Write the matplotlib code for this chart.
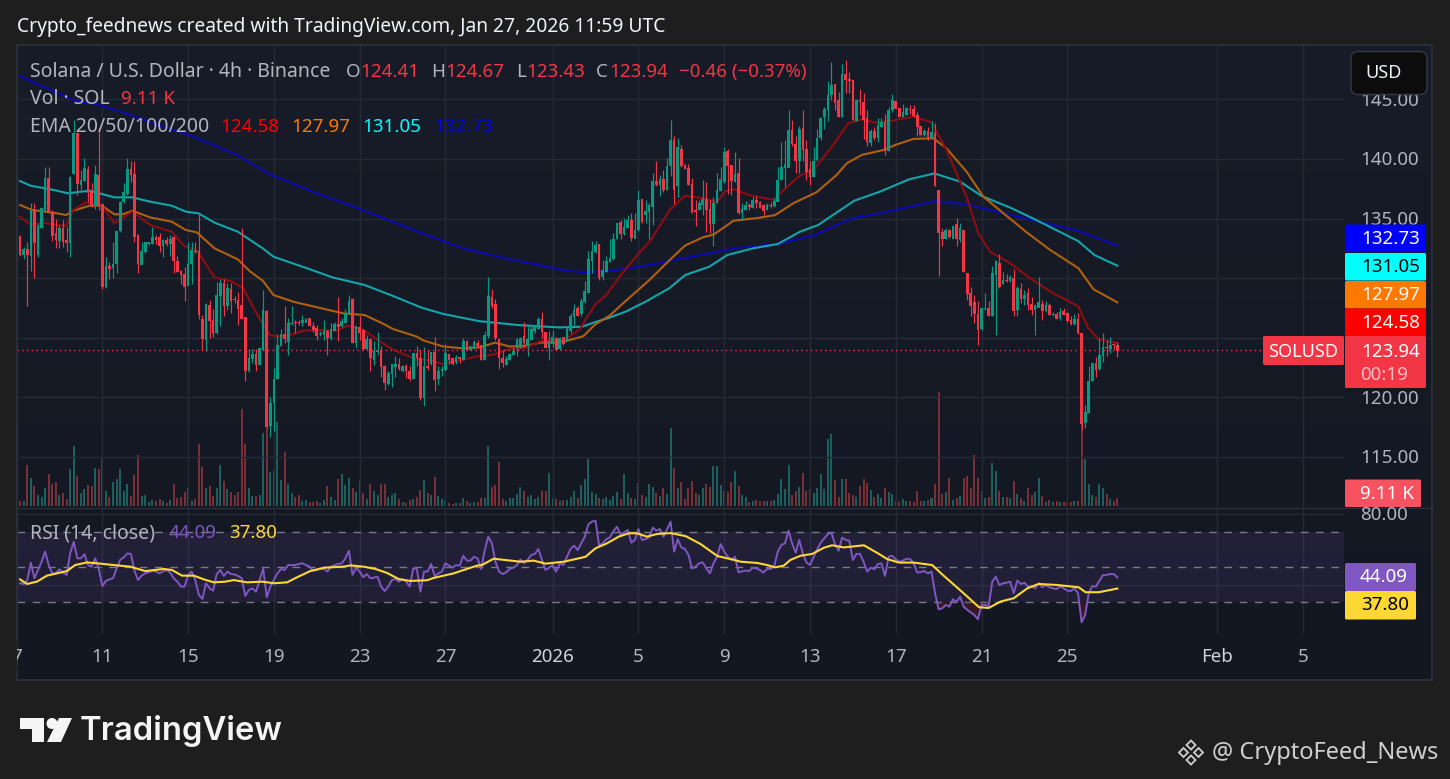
import numpy as np
import matplotlib
matplotlib.use("Agg")
import matplotlib.pyplot as plt
from matplotlib.patches import FancyBboxPatch, Polygon, Rectangle, Circle

# SOL/USD 4h candles, Dec 7 04:00 to Jan 27 08:00
opens = [
133.5,131.95,132.4,131.85,135.7,132.0,134.25,135.7,138.4,135.5,
133.8,133.1,134.2,133.2,133.0,138.8,142.15,137.8,138.2,139.15,
137.2,136.05,138.6,136.2,129.3,131.0,130.85,131.2,133.95,136.4,
137.05,139.15,138.75,133.6,131.15,132.2,132.9,132.85,133.45,133.4,
132.75,133.2,132.9,133.45,131.4,130.6,130.3,129.4,131.2,132.3,
132.25,126.6,124.8,127.75,126.45,125.4,128.55,129.6,127.65,129.1,
128.25,128.15,127.7,126.7,122.25,123.25,123.6,122.75,124.0,127.25,
117.6,119.55,121.6,124.3,125.3,124.7,126.2,126.3,126.3,126.25,
126.3,126.65,126.0,125.8,125.3,125.25,125.55,124.9,125.6,126.15,
126.0,126.3,127.05,128.2,124.6,125.9,125.6,124.05,124.9,123.15,
123.85,123.95,122.6,121.15,122.0,122.6,122.8,122.25,122.6,122.2,
121.55,123.7,123.3,120.0,122.6,122.8,123.75,121.55,122.2,122.3,
123.65,123.25,122.95,123.35,123.15,124.75,124.0,124.1,124.55,124.4,
123.15,125.15,128.4,127.8,124.9,123.3,122.75,123.15,123.6,124.2,
124.2,125.15,124.35,124.85,125.6,125.8,126.55,125.5,124.2,124.5,
125.0,124.05,125.05,124.7,125.6,126.8,127.5,127.0,128.05,128.75,
131.5,132.25,132.85,130.15,130.5,131.4,131.6,133.3,134.7,133.7,
134.25,134.9,133.35,134.05,136.65,135.3,135.6,136.0,138.1,137.8,
138.3,137.45,139.4,141.6,137.75,140.8,139.5,139.25,137.9,135.7,
135.75,136.15,136.65,135.8,134.55,136.3,137.3,138.1,140.65,139.45,
138.1,138.8,135.5,135.7,136.1,135.95,136.5,136.35,136.15,135.7,
136.15,136.05,136.45,138.25,139.25,139.3,142.45,141.25,139.85,142.55,
140.85,139.1,138.5,139.9,141.75,143.5,144.1,145.35,146.25,144.9,
143.55,147.1,146.65,146.6,143.2,144.9,144.75,143.4,141.35,142.35,
141.8,142.7,143.1,140.7,144.1,144.85,144.25,143.5,143.75,144.15,
144.15,143.7,142.75,142.0,142.35,141.8,142.15,137.4,133.85,133.3,
134.05,133.35,134.5,133.2,134.05,130.45,128.75,128.0,126.95,125.75,
127.4,127.5,126.85,130.3,131.25,129.55,129.8,129.75,130.0,127.35,
129.1,128.25,128.7,127.85,127.35,127.55,127.85,127.3,127.7,126.95,
127.0,126.65,127.2,127.05,126.5,126.2,126.6,125.4,117.9,118.7,
121.4,122.85,122.4,123.5,124.2,124.05,124.45,124.41]

closes = [
132.0,132.45,132.0,135.7,133.0,134.4,135.9,138.4,135.6,133.6,
133.2,134.2,133.05,132.95,138.5,142.15,137.9,138.2,139.2,137.2,
136.2,138.75,136.1,129.3,131.0,130.8,131.2,133.95,136.4,137.25,
139.1,138.7,133.5,131.2,132.3,133.0,133.0,133.4,133.2,132.7,
133.2,132.9,133.3,131.45,130.55,130.25,129.3,131.2,132.35,132.2,
126.9,124.95,127.8,126.4,125.45,128.55,129.6,127.65,129.2,128.15,
128.2,127.45,126.6,122.25,123.25,123.6,122.7,124.1,127.3,117.5,
119.55,121.55,124.35,125.3,124.95,126.2,126.25,126.25,126.25,126.5,
126.6,126.0,125.7,125.15,125.4,125.55,125.0,125.7,126.1,125.9,
126.4,127.05,128.05,124.6,125.95,125.4,124.1,124.9,123.35,123.85,
123.9,122.6,121.2,122.05,122.75,122.8,122.4,122.65,122.2,121.55,
123.7,123.3,119.95,122.6,122.45,123.75,121.5,122.2,122.35,123.7,
123.15,122.85,123.4,123.25,124.75,124.0,124.2,124.65,124.35,123.15,
125.25,128.5,127.7,125.0,123.3,122.9,123.2,123.65,123.9,124.9,
125.0,124.55,124.9,125.75,126.0,126.55,125.5,124.2,124.7,125.05,
124.0,125.0,124.5,125.7,126.85,127.35,126.85,128.05,128.9,131.55,
132.25,132.8,130.0,130.7,131.45,131.7,133.3,134.6,133.75,134.25,
134.9,133.4,134.05,136.55,134.7,135.65,136.15,138.15,137.85,138.3,
137.4,139.4,141.55,137.4,141.0,139.4,139.2,137.85,135.5,135.55,
136.3,136.65,135.7,134.55,136.3,137.4,138.3,140.6,139.4,138.2,
138.75,135.5,135.75,136.1,136.0,136.5,136.3,135.95,135.65,136.15,
136.1,136.45,138.25,139.3,139.6,142.4,141.25,139.85,142.5,140.75,
138.95,138.5,139.85,141.75,143.45,144.2,145.35,146.2,144.7,143.55,
147.1,146.65,146.6,143.3,144.95,144.8,143.3,141.45,142.35,141.8,
142.85,143.05,140.7,144.1,144.9,144.25,143.55,143.95,144.25,144.1,
143.6,142.7,142.0,142.35,141.8,142.25,137.75,133.85,133.3,134.05,
133.5,134.4,133.3,134.15,130.5,128.7,127.7,127.0,125.7,127.5,
127.5,126.85,130.4,131.45,129.3,129.8,129.75,130.05,127.3,129.2,
128.25,128.6,127.75,127.35,127.75,128.0,127.3,127.75,126.95,127.0,
126.6,127.15,126.95,126.45,126.2,126.6,125.4,117.8,118.8,121.4,
122.9,122.35,123.5,124.2,124.15,124.4,124.41,123.94]

highs = [
133.6,132.6,133.05,136.3,136.3,134.6,135.95,139.35,139.35,135.7,
135.0,134.45,134.85,134.3,138.55,143.3,142.2,139.1,140.1,139.4,
138.0,139.5,142.6,136.2,131.8,131.35,133.05,134.0,136.45,137.95,
140.1,139.8,139.8,133.7,133.0,133.05,133.05,134.3,133.65,133.75,
133.3,133.45,133.6,133.5,131.85,130.65,130.9,133.05,133.0,133.0,
135.4,126.9,127.95,128.2,127.45,129.65,129.9,129.9,129.6,129.6,
128.5,128.85,134.2,126.7,124.1,124.1,124.1,124.15,129.0,127.3,
120.05,122.45,125.35,125.7,127.7,126.65,127.7,126.5,126.5,126.95,
126.7,126.65,126.35,126.1,125.6,126.5,125.65,126.25,126.35,128.45,
126.65,127.4,128.6,128.3,126.0,126.85,125.7,125.25,124.9,124.7,
125.5,124.35,122.75,122.2,122.8,123.5,123.3,122.75,122.8,122.6,
123.75,124.35,124.0,124.2,124.0,123.85,125.1,122.6,122.6,124.5,
123.65,123.3,123.55,123.35,125.0,124.85,124.4,124.8,124.85,124.4,
125.6,130.1,129.1,128.25,124.9,124.0,123.45,123.7,124.2,125.0,
125.1,126.35,125.95,126.1,126.1,126.75,127.15,125.5,125.55,125.65,
125.1,125.1,125.1,125.95,127.1,127.85,127.7,128.35,129.75,132.25,
133.1,133.1,132.85,131.55,131.85,133.25,133.8,134.6,134.85,135.05,
135.3,135.45,135.45,137.4,136.65,136.6,136.3,138.8,139.8,138.65,
139.1,140.05,143.3,141.9,141.8,141.2,139.6,139.6,138.4,136.6,
136.6,138.2,138.1,136.6,136.85,138.85,139.35,141.0,140.8,139.45,
140.6,140.05,136.3,136.45,136.3,136.85,136.9,136.5,136.25,136.3,
136.35,136.7,139.35,141.45,141.6,144.15,143.25,141.95,142.75,144.15,
141.6,139.8,141.0,142.55,143.5,144.4,146.55,148.15,146.3,145.65,
148.0,148.3,147.3,146.6,145.0,145.9,145.5,144.1,142.55,142.7,
143.4,143.4,143.75,144.4,145.45,144.85,144.25,144.6,144.4,144.5,
144.5,143.95,142.75,142.55,142.7,143.2,143.0,137.4,134.2,134.25,
134.1,134.4,135.05,134.6,134.05,130.4,129.3,128.6,128.05,127.5,
128.75,128.05,131.0,131.55,132.05,130.55,130.35,130.3,130.75,129.35,
129.6,129.0,129.15,128.45,127.75,130.1,128.2,128.05,127.9,127.2,
127.2,127.5,127.5,127.2,126.8,127.0,127.05,125.4,119.4,122.65,
122.9,123.35,125.0,125.4,124.8,125.05,124.6,124.67]

lows = [
131.9,131.65,127.7,130.6,130.0,131.8,134.2,135.6,135.45,133.1,
132.5,132.5,132.6,132.2,131.8,138.75,137.0,137.4,138.15,136.4,
135.95,135.8,135.7,129.1,129.2,129.95,130.0,130.4,133.9,136.3,
137.0,138.1,133.0,130.45,131.15,132.15,132.8,132.85,132.85,132.2,
131.75,132.7,131.9,130.45,130.5,129.55,128.05,129.4,129.55,132.15,
126.6,123.95,123.9,124.95,125.05,125.35,126.0,126.8,127.3,127.05,
127.9,126.05,126.55,121.4,122.1,122.85,122.25,122.75,123.95,117.4,
116.7,117.2,121.55,124.3,124.6,123.6,126.1,125.4,126.1,125.95,
126.3,126.0,125.5,124.8,125.15,124.85,123.6,124.85,125.6,124.7,
125.9,126.25,127.0,124.6,124.15,124.85,124.0,124.0,122.2,122.75,
123.6,121.75,120.65,121.05,120.85,121.75,122.3,122.1,121.6,121.4,
121.55,122.6,119.8,119.3,122.3,122.75,120.5,121.05,121.8,122.2,
122.8,122.7,122.8,122.85,123.15,124.0,124.0,124.1,124.15,123.1,
123.1,125.0,127.5,124.85,122.4,122.55,122.7,123.1,123.6,123.45,
124.15,124.2,123.5,124.85,125.4,125.7,125.0,124.2,123.15,124.2,
124.0,124.0,124.4,124.7,125.4,125.95,126.8,126.85,127.95,128.75,
130.45,132.15,129.85,129.85,130.5,131.4,131.55,133.3,133.25,133.65,
134.2,133.15,133.35,134.0,134.6,134.6,133.25,134.5,137.75,136.9,
137.25,137.4,138.6,136.25,136.85,139.35,139.15,137.85,135.5,134.4,
135.75,135.3,133.85,133.8,132.7,136.3,137.3,138.0,137.1,137.0,
138.1,135.4,134.9,135.7,135.7,135.9,135.9,135.9,135.3,135.7,
135.9,135.95,136.45,138.2,137.65,139.3,141.1,138.85,138.85,139.85,
138.2,137.85,138.45,139.8,141.6,142.55,143.15,144.95,144.1,143.55,
143.55,145.5,145.5,143.25,143.2,143.7,141.65,141.05,141.1,141.6,
141.45,142.7,140.3,140.7,143.95,144.25,143.5,143.5,143.7,143.75,
143.5,141.95,141.95,141.95,141.55,141.75,137.75,130.15,132.7,133.3,
133.35,133.35,132.7,133.05,130.5,128.2,126.8,126.25,124.4,125.65,
127.35,126.8,126.8,125.25,129.15,129.5,129.65,129.65,126.8,126.85,
127.9,127.75,127.35,126.95,125.25,127.55,126.5,127.2,126.95,126.85,
126.55,126.5,126.95,126.35,126.1,126.1,125.35,117.3,117.45,118.7,
121.4,121.75,122.3,123.0,123.45,123.75,124.05,123.43]

# volume in thousands of SOL
volumes = [
5.7,5.7,46.7,31.9,22.8,12.5,10.3,20.5,36.5,25.1,
27.4,12.5,14.8,8,42.2,68.4,34.2,14.8,19.4,23.9,
22.8,43.3,42.2,55.9,17.1,10.3,27.4,30.8,42.2,17.1,
25.1,11.4,35.3,58.1,11.4,12.5,4.6,6.8,5.7,8,
5.7,3.4,6.8,25.1,9.1,10.3,16,20.5,5.7,8,
70.7,44.5,20.5,22.8,11.4,20.5,46.7,28.5,19.4,16,
12.5,16,110.6,70.7,20.5,11.4,11.4,12.5,83.2,89.3,
38.8,41,95.8,29.6,61.6,25.1,14.8,10.3,12.5,5.7,
6.8,4.6,4.6,5.7,3.4,6.8,22.8,10.3,6.8,30.8,
36.5,23.9,31.9,20.5,16,28.5,14.8,8,25.1,17.1,
12.5,25.1,25.1,10.3,12.5,14.8,8,4.6,3.4,6.8,
8,10.3,18.2,29.6,14.8,12.5,33.1,11.4,8,6.8,
3.4,2.3,3.4,3.4,9.1,5.7,3.4,4.6,4.6,9.1,
9.1,68.4,21.7,23.9,50.2,8,5.7,9.1,9.1,13.7,
21.7,17.1,10.3,12.5,8,10.3,17.1,17.1,37.6,9.1,
8,5.7,6.8,6.8,10.3,17.1,9.1,23.9,30.8,53.6,
16,13.7,9.1,8,10.3,6.8,11.4,16,8,36.5,
14.8,9.1,8,26.2,12.5,10.3,25.1,21.7,14.8,11.4,
20.5,13.7,88.9,43.3,20.5,27.4,8,20.5,28.5,14.8,
12.5,20.5,25.1,21.7,45.6,45.6,23.9,17.1,16,27.4,
39.9,22.8,12.5,10.3,4.6,5.7,6.8,5.7,5.7,5.7,
5.7,6.8,13.7,30.8,19.4,46.7,12.5,17.1,21.7,37.6,
17.1,19.4,14.8,20.5,36.5,19.4,76.4,82.1,29.6,10.3,
30.8,30.8,14.8,12.5,10.3,22.8,30.8,26.2,18.2,10.3,
13.7,9.1,20.5,16,13.7,5.7,4.6,8,5.7,5.7,
4.6,17.1,5.7,5.7,6.8,9.1,25.1,130.3,13.7,16,
31.9,6.8,9.1,11.4,31.9,34.2,20.5,58.1,31.9,17.1,
9.1,10.3,49,39.9,17.1,10.3,10.3,9.1,28.5,13.7,
9.1,5.7,20.5,12.5,16,31.9,11.4,4.6,6.8,4.6,
5.7,4.6,4.6,4.6,4.6,5.7,5.7,93.5,53.6,25.1,
12.5,10.3,25.1,20.5,13.7,8,5.7,9.11]

rsi = [
40.8,40.4,42.6,52.5,43.6,48.3,53,58.7,51.1,46.4,
46.4,48.7,46.8,45.5,57.7,64.3,54.9,54.9,57.2,51.1,
50.2,54.9,49.2,39.2,42.1,43,43.6,49.2,54,55.5,
57.7,57.4,47.9,42.6,45.1,46.4,47,47.9,47.4,46.4,
47.5,48.3,46.8,43.6,41.7,38.9,38.9,45.5,47.4,42.6,
34.2,31.9,40.8,37.9,36.6,46,48.3,44.9,47.4,46,
45.8,44.9,43.6,33.6,37,37.9,36,42.6,49.2,32.8,
38.9,42.6,46.4,48.9,48.3,51.1,51.1,51.1,51.7,52.1,
51.1,50.2,47.9,48.3,48.9,48.9,47.4,50.2,51.1,51.7,
52.1,54.9,59.2,45.5,49.6,47.4,44.2,46,43.6,44,
44.5,38.9,36.4,38.9,42.6,43.2,41.7,43,41.7,38.9,
49.2,48.9,36,47.4,47.4,51.7,44.9,46.4,47.4,52.1,
50.8,49.6,51.1,50.8,56.4,53.6,53.6,55.8,54.9,48.9,
59.6,67.2,63.4,53,47.4,46,47,48.9,49.6,51.1,
54.3,52.1,54,56.8,57.4,60.2,54,48.3,49.6,51.1,
47.4,52.1,51.1,55.8,60.2,62.1,59.6,63.4,67.2,74.2,
75.7,76.2,62.1,63.4,65.7,66.8,70.4,72.8,68.5,69.6,
70.9,63.8,65.3,71.5,65.3,65.8,66.8,72.3,70.6,71.5,
67.2,71.3,75.7,58.7,65.8,61.1,60.2,56.8,49.2,50.2,
52.1,52.6,49.2,46.4,52.1,55.8,63,58.7,55.8,54,
55.8,47,47.5,47.9,47.7,49.6,49.2,48.3,46.8,48.9,
48.9,50.6,58.7,62.5,63.4,70.6,63.4,58.1,65.3,57.7,
52.6,51.1,55.5,60,63.8,66.2,68.7,69.4,63,59.2,
66.6,65.3,64.9,54,57.4,57.4,53,47.4,49.6,48.7,
51.7,52.1,44.9,55.8,56.4,54.3,53,53.6,54.7,54.5,
52.1,46.8,47.2,47.7,46.4,47.4,35.1,26,26.6,28.5,
27.5,31.7,30.2,33.2,27.5,25.7,24.2,22.8,20.4,28.5,
28.5,27.9,41.7,44.5,39.8,40.8,41.1,41.7,35.1,42.3,
40.4,41.1,38.9,39.2,37.9,40.8,38.5,39.8,38.5,37.9,
37.5,39.2,37.9,36.6,36.4,37.9,35.1,18.7,22.8,35.1,
39.2,38.9,42.3,45.5,45.5,46,46,44.09]

# RSI moving average, read at irregular bars
rsi_ma_x = [0,1.9,4.7,7.5,10.3,13.1,15.4,18.7,21.5,26.2,30.8,35,40.2,42.5,45.3,48.6,51.4,54.2,57.4,59.8,
    63.5,67.7,71,74.7,77.5,81.2,85,90.5,92.4,96.1,99.4,102.7,105.9,109.2,113.9,115.7,121.3,125,127.9,129.2,
    132.5,140,143.7,147,152.1,156.3,158.2,161,164.2,167.5,170.3,172.6,175.4,178.2,182,186.2,190.4,195.1,199.2,201.6,
    206.2,209,211.3,213.7,215.5,218.4,221.6,224.9,227.2,230.5,236.1,240.3,242.6,245.9,250.1,255.2,258,264,268.3,271,
    274.3,278,281.8,285,290.2,296.2,298.1,301.8,307]
rsi_ma = [43,40.4,41.7,45.1,46.4,47.7,51.1,52.6,52.1,51.1,50.2,47.7,48.9,48.3,45.1,45.1,43,41.3,41.7,42.6,
    41.3,41.7,40.8,41.3,44.2,47.7,49.6,50.2,50.9,50.2,48.9,46.6,43.2,42.1,42.5,43.8,46.4,48.9,50.8,51.1,
    54.7,53,53.6,51.9,53,54.9,55.8,60.6,63.4,67.2,69.1,69.1,67.2,68.7,69.2,67.5,63,56.2,54.3,53,
    52.3,51.1,49.8,50.8,54,56.4,57.4,60.9,62.3,61.1,62.3,57.4,54.5,52.5,52.5,51.1,45.8,35.1,27.2,26.8,
    30.4,32.3,37.9,40.4,39.8,38.5,35.7,35.7,37.8]

# EMA lines, read at irregular bars
ema20_x = [0,2.9,6.4,10.4,12.9,14.9,18.4,22.9,26.4,31.4,36.4,42.4,45.9,49.4,54.4,59.4,62.4,66.4,69.9,72.7,
    75.5,79.2,83,88.6,91.8,96,100.7,104.4,110,114.7,118.4,123.1,127.7,132.4,136.1,141.7,146.4,152,156.6,158.5,
    160.9,164.1,167.8,173,176.2,181.8,186,191.2,194.9,197.2,199.6,204.7,210.8,214.5,218.2,222,225.7,228.5,231.7,235.5,
    239.2,243.9,249.9,255,259.2,264.8,268.1,271.4,277,282.6,288.2,296.1,298.9,301.7,307]
ema20 = [135.16,134.46,134.66,134.46,134.38,135.72,136.36,136.08,134.6,135.58,134.46,133.9,132.7,132.36,130.07,129.71,129.15,126.91,125.23,125.1,
    125.25,125.59,125.67,125.61,126.03,125.67,124.69,123.99,123.3,123.1,122.79,123.1,123.44,123.58,123.99,124.19,124.83,124.78,125.7,126.67,
    127.79,128.63,130.16,132.06,133.09,135.74,136.91,136.72,136.35,137.27,137.47,136.91,136.58,137.64,138.61,139.09,140.48,141.6,142.99,143.33,
    143.04,143.21,143.55,143.07,140.75,136.84,133.77,132.23,131.26,130,128.88,127.63,125.81,124.89,124.58]

ema50_x = [0,3.4,9.4,12.9,14.9,19.4,22.9,26.4,28.9,31.4,36.4,42.4,46.4,49.4,54.4,60.9,64.4,67.9,70.9,76.4,
    84.4,90.4,96.4,101.4,104.4,111,112.8,118.4,123.5,128.7,132.9,137,141.7,145.5,150.1,153,157.6,160.9,165,167.8,
    173,176.2,180.9,186,191.2,194,199.6,206.1,211.2,216.4,222.9,228.5,231.3,235.5,241.5,244.8,249.9,255.5,259.2,264.8,
    269.5,275.1,281.6,288.2,296.1,300.3,307]
ema50 = [136.14,135.72,135.49,135.3,135.66,136.08,136.08,135.35,135.38,135.66,135.1,134.74,134.04,133.85,132.5,131.58,130.55,129.79,128.59,128.03,
    127.47,127.05,126.91,126.21,125.73,125.1,124.78,124.27,124.13,124.2,124.6,124.27,124.33,124.6,124.6,124.75,125.14,126.12,126.87,127.65,
    129.04,129.88,131.28,132.73,133.45,133.65,134.82,135.04,135.29,136.3,137.22,138.67,139.64,140.34,140.75,141.17,141.68,141.73,140.89,138.94,
    136.84,135.45,133.85,132.37,130.84,129.08,127.97]

ema100_x = [0,2.9,9.4,13.4,19.4,26.4,31.4,36.4,42.4,46.4,49.9,54.4,60.9,67.9,70.9,80.4,87.4,96.4,104.4,112.4,
    118.4,128.4,139.4,151,157.2,161.2,164.3,169.4,175,181.6,186.1,192.8,197.8,205,212,218.2,223.3,228.4,233.4,240.6,
    248.7,255.8,263,269,277.2,284.3,296,300.6,307]
ema100 = [138.15,137.76,137.4,137.12,137.34,136.78,136.78,136.42,136.08,135.58,135.44,134.66,133.9,132.5,131.8,130.82,130.07,129.43,128.5,127.52,
    127,126.4,126.07,125.87,125.93,126.35,126.63,127.19,128.03,129.15,130.27,130.96,131.94,132.5,132.87,133.9,134.46,135.5,136.5,137.26,
    138.29,138.79,138.1,136.9,135.9,134.88,133.12,131.94,131.05]

ema200_x = [0,4.4,14.9,21.3,28.3,37.3,47.3,60.3,70.3,84.3,94.3,112.2,124,136,151,157,164,173.4,181.5,191.8,
    202,212,222.3,232.5,242.6,255.8,265,275.2,285.4,296,307]
ema200 = [146.96,146.34,144.94,144.6,143.96,142.99,142,140.4,138.65,136.97,135.9,133.8,132.5,131.65,130.74,130.5,130.6,130.96,131.44,132.03,
    132.6,132.86,133.62,135,135.57,136.47,136.2,135.44,134.73,133.98,132.73]

# axis ticks
price_ticks = [115, 120, 125, 130, 135, 140, 145]
price_tick_labels = ["115.00", "120.00", "", "", "135.00", "140.00", "145.00"]
rsi_levels = [70, 50, 30]
rsi_grid = [80, 40]
time_tick_bars = [-1, 23, 47, 71, 95, 119, 149, 173, 197, 221, 245, 269, 293, 335, 359]
time_tick_labels = ["7", "11", "15", "19", "23", "27", "2026", "5", "9", "13", "17", "21", "25", "Feb", "5"]

UP = "#089981"
DOWN = "#F23645"
TEXT = "#B2B5BE"
GRID = "#262a35"
W, H = 1450, 779
FONT = "Noto Sans"

plt.rcParams["font.family"] = [FONT, "DejaVu Sans"]

fig = plt.figure(figsize=(W / 100, H / 100), dpi=100, facecolor="#1e1e1e")


def pane(left, top, right, bottom, z):
    a = fig.add_axes([left / W, 1 - bottom / H, (right - left) / W, (bottom - top) / H], zorder=z)
    a.set_facecolor("none")
    for s in a.spines.values():
        s.set_visible(False)
    a.tick_params(left=False, bottom=False, labelleft=False, labelbottom=False)
    return a


# pane background, slightly lighter towards the top
bg = pane(17, 45, 1432, 680, 0)
top_c = np.array([0x18, 0x1c, 0x28]) / 255
bot_c = np.array([0x13, 0x17, 0x22]) / 255
t = np.linspace(0, 1, 200)[:, None, None]
bg.imshow(top_c[None, None, :] * (1 - t) + bot_c[None, None, :] * t, aspect="auto", extent=(0, 1, 0, 1))
bg.set_xlim(0, 1)
bg.set_ylim(0, 1)

bars = np.arange(len(closes))
opens = np.array(opens)
closes = np.array(closes)
colors = np.where(closes >= opens, UP, DOWN)
xlim = ((17 - 20.13) / 3.574, (1344 - 20.13) / 3.574)

# price pane, y from the tick positions on the scale
ax = pane(17, 45, 1344, 507, 2)
ax.set_xlim(*xlim)
ax.set_ylim(110.81, 149.56)
ax.hlines(price_ticks, *xlim, color=GRID, lw=1.0, zorder=0)
ax.vlines(time_tick_bars, 110.81, 149.56, color=GRID, lw=1.0, zorder=0)

# volume sits at the bottom of the same pane, 9.11K is about 8 px
vax = pane(17, 45, 1344, 507, 1)
vax.set_xlim(*xlim)
vax.set_ylim(-1.2, 462 * 9.11 / 8)
vol_colors = np.where(closes >= opens, "#1c5f5c", "#7b3038")
vax.bar(bars, volumes, width=0.56, color=vol_colors, linewidth=0)

ax.plot(ema200_x, ema200, color="#0a0ab0", lw=1.5, zorder=2)
ax.plot(ema100_x, ema100, color="#14a5aa", lw=1.5, zorder=2)
ax.plot(ema50_x, ema50, color="#b0600f", lw=1.5, zorder=2)
ax.plot(ema20_x, ema20, color="#8e0d12", lw=1.5, zorder=2)

ax.vlines(bars, lows, highs, color=colors, lw=0.85, zorder=3)
ax.bar(bars, np.abs(closes - opens) + 0.04, bottom=np.minimum(opens, closes) - 0.02, width=0.74,
       color=colors, linewidth=0, zorder=4)
ax.hlines(123.94, xlim[0], (1263 - 20.13) / 3.574, color=DOWN, lw=1.0, linestyle=(0, (1, 2.4)), zorder=5)

# RSI pane
rax = pane(17, 508, 1344, 634, 2)
rax.set_xlim(*xlim)
rax.set_ylim(12.04, 83.43)
rax.hlines(rsi_grid, *xlim, color=GRID, lw=1.0, zorder=0)
rax.vlines(time_tick_bars, 12.04, 83.43, color=GRID, lw=1.0, zorder=0)
rax.axhspan(30, 70, color="#7E57C2", alpha=0.13, lw=0, zorder=1)
rax.hlines(rsi_levels, *xlim, color="#787B86", lw=1.0, linestyle=(0, (5.5, 5.5)), zorder=1)
rsi = np.array(rsi)
rax.fill_between(bars, rsi, 30, where=rsi < 30, color="#8e2020", alpha=0.3, lw=0, zorder=1, interpolate=True)
rax.plot(bars, rsi, color="#7E57C2", lw=1.4, zorder=2)
rax.plot(rsi_ma_x, rsi_ma, color="#FDD835", lw=1.5, zorder=3)

# everything else is placed in pixels on the screenshot
ov = pane(0, 0, W, H, 5)
ov.set_xlim(0, W)
ov.set_ylim(H, 0)


def txt(x, y, s, color=TEXT, size=13.5, ha="left", weight="normal", **kw):
    return ov.text(x, y + 1.5, s, color=color, fontsize=size, ha=ha, va="center", fontweight=weight, **kw)


def box(x0, y0, x1, y1, color, radius=1.5):
    ov.add_patch(FancyBboxPatch((x0 + radius, y0 + radius), x1 - x0 - 2 * radius, y1 - y0 - 2 * radius,
                                boxstyle="round,pad=%g,rounding_size=%g" % (radius, radius),
                                facecolor=color, edgecolor="none", zorder=3))


# frame
ov.add_patch(Rectangle((17, 45), 1415, 635, facecolor="none", edgecolor="#2a2e39", lw=1.5, zorder=1))
ov.plot([17, 1432], [507.5, 507.5], color="#2a2e39", lw=1.0, zorder=1)

txt(17, 25, "Crypto_feednews created with TradingView.com, Jan 27, 2026 11:59 UTC", color="#f0f3fa", size=13.85, weight="semibold")

# legend
txt(30, 70, "Solana / U.S. Dollar · 4h · Binance", size=14.0)
for x, s, c in [(346, "O", TEXT), (360, "124.41", DOWN), (431, "H", TEXT), (445, "124.67", DOWN),
                (516, "L", TEXT), (526, "123.43", DOWN), (596, "C", TEXT), (609, "123.94", DOWN),
                (679, "−0.46 (−0.37%)", DOWN)]:
    txt(x, 70, s, color=c)
txt(30, 97, "Vol · SOL", size=14.0)
txt(121, 97, "9.11 K", color=DOWN)
txt(30, 125, "EMA 20/50/100/200", size=14.0)
for x, s, c in [(220, "124.58", "#FF0000"), (291, "127.97", "#FF7800"), (362, "131.05", "#00FFFF"), (434, "132.73", "#0000FF")]:
    txt(x, 125, s, color=c)
txt(30, 532, "RSI (14, close)", size=14.0)
txt(169, 532, "44.09", color="#7E57C2")
txt(229, 532, "37.80", color="#FDD835")

# price scale
for p, s in zip(price_ticks, price_tick_labels):
    if s:
        txt(1360, 397.33 + (120 - p) * 11.92, s, zorder=2)
txt(1360, 513, "80.00", zorder=2)

for y0, y1, c, s, tc in [(224.5, 252, "#0000FF", "132.73", "white"), (253, 280.5, "#00FFFF", "131.05", "black"),
                         (281, 308.5, "#FF7800", "127.97", "white"), (308.5, 336, "#FF0000", "124.58", "white")]:
    box(1345, y0, 1426, y1, c)
    txt(1361, (y0 + y1) / 2 - 1, s, color=tc, zorder=4)
box(1345, 336, 1426, 388, DOWN)
txt(1361, 350, "123.94", color="white", zorder=4)
txt(1360, 373, "00:19", color="#fbc0c5", zorder=4)
box(1263, 336, 1344, 365, DOWN)
txt(1303.5, 350, "SOLUSD", color="white", ha="center", weight="semibold", size=13.0, zorder=4)
box(1345, 479.5, 1421, 507, "#F7525F")
txt(1360, 492.5, "9.11 K", color="white", zorder=4)
box(1345, 563, 1416, 591, "#7E57C2")
txt(1360, 576, "44.09", color="white", zorder=4)
box(1345, 591, 1416, 619.5, "#FDD835")
txt(1361, 604, "37.80", color="black", zorder=4)

ov.add_patch(FancyBboxPatch((1355, 55.5), 68, 35, boxstyle="round,pad=4,rounding_size=7",
                            facecolor="#0c0c0d", edgecolor="#363a45", lw=1, zorder=3))
txt(1384, 71, "USD", color="#f0f3fa", ha="center", size=13.0, weight="medium", zorder=4)

# time axis, the first label is cut by the pane edge
for b, s in zip(time_tick_bars, time_tick_labels):
    xp = 20.13 + 3.574 * b
    bold = s in ("2026", "Feb")
    txt(xp, 656, s, color="#d1d4dc" if bold else TEXT, ha="center", weight="bold" if bold else "normal")
ov.add_patch(Rectangle((0, 640), 17, 30, facecolor="#1e1e1e", edgecolor="none", zorder=4))

# TradingView logo
white = "#f5f5f5"
ov.add_patch(Polygon([(20, 718), (44, 718), (44, 742), (32, 742), (32, 729), (20, 729)], facecolor=white, zorder=3))
ov.add_patch(Circle((52, 723.5), 5.5, facecolor=white, zorder=3))
ov.add_patch(Polygon([(59, 718), (72, 718), (61, 742), (47, 742)], facecolor=white, zorder=3))
txt(80, 729.5, "TradingView", color=white, size=23.6, weight="semibold", family="Inter")

# watermark
for cx, cy in [(1191, 745), (1183.5, 752.5), (1198.5, 752.5), (1191, 760)]:
    ov.add_patch(Polygon([(cx, cy - 4.5), (cx + 4.5, cy), (cx, cy + 4.5), (cx - 4.5, cy)], facecolor="none", edgecolor="#cfcfcf", lw=1.3, zorder=3))
txt(1212, 751.5, "@ CryptoFeed_News", color="#cfcfcf", size=17)

fig.savefig("out.png", dpi=100, facecolor=fig.get_facecolor())
